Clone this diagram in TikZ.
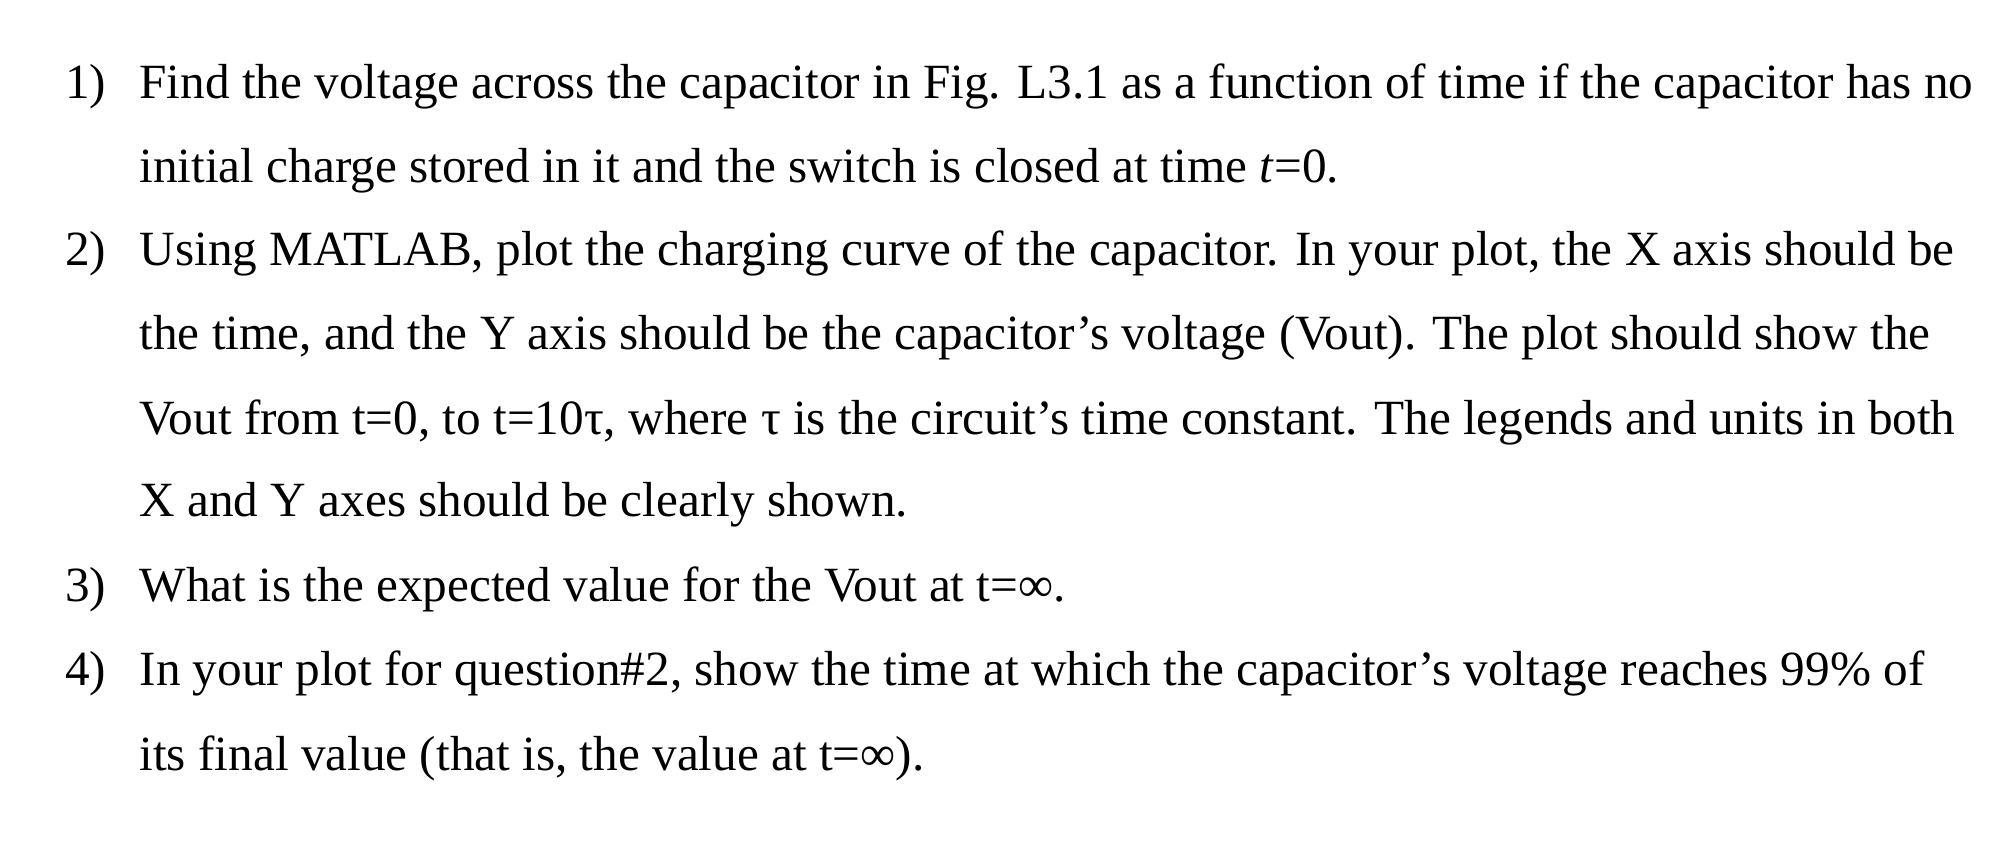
\documentclass[tikz,border=0pt]{standalone}
\usepackage{fontspec}
\setmainfont{Liberation Serif}
\begin{document}
\begin{tikzpicture}[x=0.01cm,y=-0.01cm,
  txt/.style={anchor=base west,inner sep=0pt,font=\fontsize{10.9pt}{13pt}\selectfont}]
\useasboundingbox (0,0) rectangle (1568,663);
\node[txt] (n1) at (50,77) {1)};
\node[txt] (l1) at (108,77) {Find the voltage across the capacitor in Fig. L3.1 as a function of time if the capacitor has no};
\node[txt] (l2) at (108,142) {initial charge stored in it and the switch is closed at time \textit{t}=0.};
\node[txt] (n2) at (50,207) {2)};
\node[txt] (l3) at (108,207) {Using MATLAB, plot the charging curve of the capacitor. In your plot, the X axis should be};
\node[txt] (l4) at (108,272) {the time, and the Y axis should be the capacitor\char"27 s voltage (Vout). The plot should show the};
\node[txt] (l5) at (108,338) {Vout from t=0, to t=10τ, where τ is the circuit\char"27 s time constant. The legends and units in both};
\node[txt] (l6) at (108,402) {X and Y axes should be clearly shown.};
\node[txt] (n3) at (50,468) {3)};
\node[txt] (l7) at (108,468) {What is the expected value for the Vout at t=∞.};
\node[txt] (n4) at (50,534) {4)};
\node[txt] (l8) at (108,534) {In your plot for question\#2, show the time at which the capacitor’s voltage reaches 99\% of};
\node[txt] (l9) at (108,600) {its final value (that is, the value at t=∞).};
\end{tikzpicture}
\end{document}
